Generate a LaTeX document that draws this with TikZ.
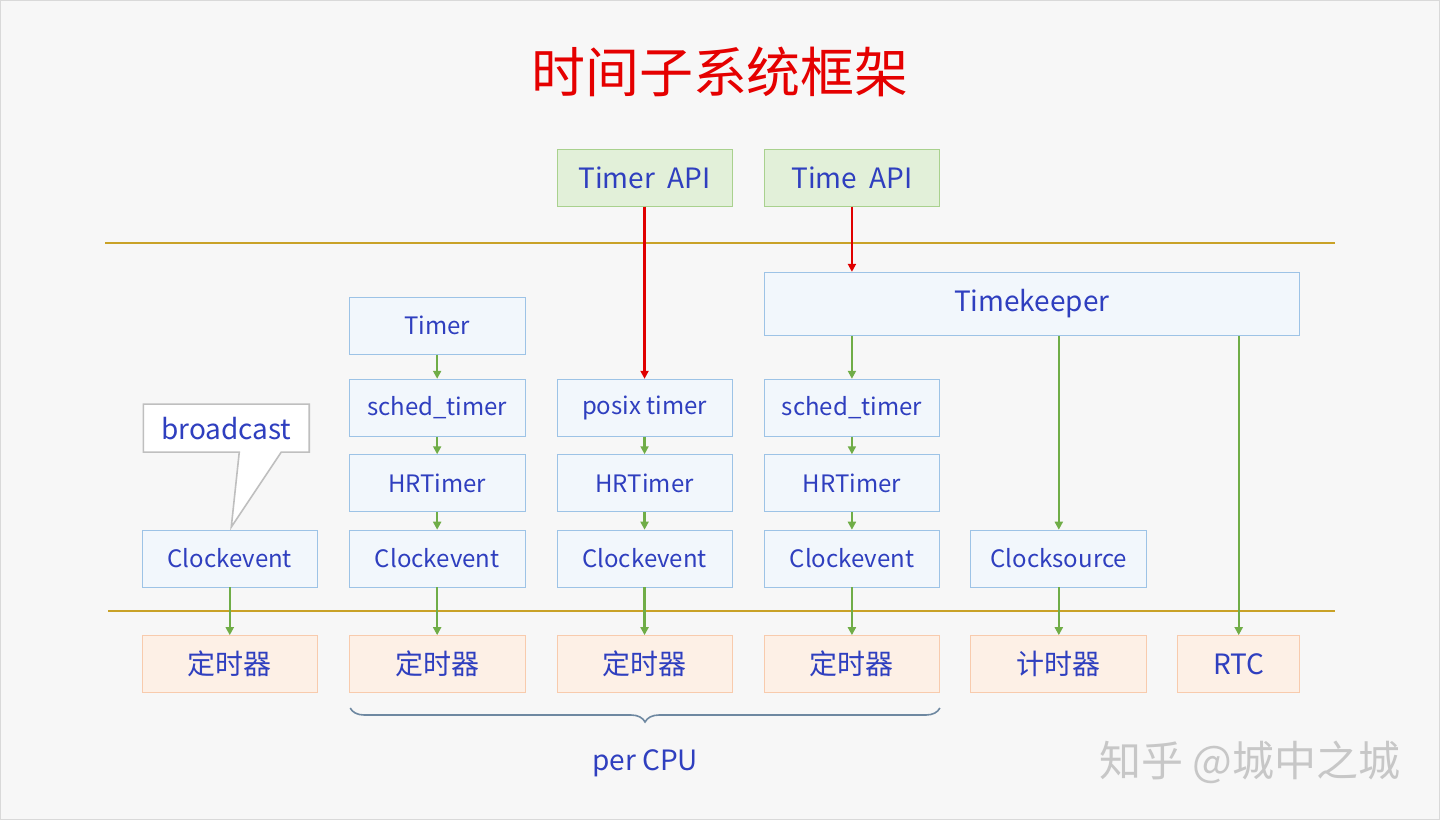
\documentclass[tikz,border=0pt]{standalone}
\usepackage{fontspec}
\setmainfont{Noto Sans CJK SC}
\usetikzlibrary{arrows.meta,decorations.pathreplacing}
\definecolor{txt}{HTML}{2F3FBF}
\definecolor{gline}{HTML}{C9A227}
\definecolor{gfill}{HTML}{E2F0D9}\definecolor{gdraw}{HTML}{A9D18E}
\definecolor{bfill}{HTML}{F2F7FC}\definecolor{bdraw}{HTML}{9DC3E6}
\definecolor{ofill}{HTML}{FDF0E6}\definecolor{odraw}{HTML}{F8CBAD}
\definecolor{garr}{HTML}{70AD47}\definecolor{rarr}{HTML}{E00000}
\begin{document}
\begin{tikzpicture}[x=0.5pt,y=-0.5pt,
  bx/.style={draw=bdraw,fill=bfill,text=txt,font=\fontsize{12}{14}\selectfont,inner sep=0pt},
  gbx/.style={draw=gdraw,fill=gfill,text=txt,font=\fontsize{14}{16}\selectfont,inner sep=0pt},
  obx/.style={draw=odraw,fill=ofill,text=txt,font=\fontsize{14}{16}\selectfont,inner sep=0pt},
  ga/.style={draw=garr,line width=1.2pt,-{Triangle[length=4pt,width=4pt]}},
  ra/.style={draw=rarr,line width=1.2pt,-{Triangle[length=4pt,width=4pt]}}]
\path[fill=white!97!black,draw=black!15] (0,0) rectangle (1440,819);
\useasboundingbox (0,0) rectangle (1440,819);
\node[text=red!90!black,font=\fontsize{27}{30}\selectfont] (title) at (720,72) {时间子系统框架};
\newcommand\bxat[5]{\node[#1,minimum width=#4*0.5pt,minimum height=57*0.5pt] (#2) at (#3) {#5};}
\bxat{gbx}{tia}{644.5,177.5}{175}{Timer\ \ API}
\bxat{gbx}{tma}{852,177.5}{176}{Time\ \ API}
\coordinate (l1a) at (105,243); \coordinate (l1b) at (1335,243);
\draw[gline,line width=1pt] (l1a) -- (l1b);
\coordinate (l2a) at (108,611); \coordinate (l2b) at (1335,611);
\draw[gline,line width=1pt] (l2a) -- (l2b);
\node[bx,font=\fontsize{14}{16}\selectfont,minimum width=268pt,minimum height=31.5pt] (tk) at (1032,303.5) {Timekeeper};
\bxat{bx}{timer}{437,325.5}{176}{Timer}
\bxat{bx}{s1}{437,407.5}{176}{sched\_timer}
\bxat{bx}{px}{644.5,407.5}{175}{posix timer}
\bxat{bx}{s2}{852,407.5}{176}{sched\_timer}
\bxat{bx}{h1}{437,483}{176}{HRTimer}
\bxat{bx}{h2}{644.5,483}{175}{HRTimer}
\bxat{bx}{h3}{852,483}{176}{HRTimer}
\bxat{bx}{c0}{229.5,558.5}{175}{Clockevent}
\bxat{bx}{c1}{437,558.5}{176}{Clockevent}
\bxat{bx}{c2}{644.5,558.5}{175}{Clockevent}
\bxat{bx}{c3}{852,558.5}{176}{Clockevent}
\bxat{bx}{cs}{1059,558.5}{176}{Clocksource}
\bxat{obx}{d0}{229.5,664}{175}{定时器}
\bxat{obx}{d1}{437,664}{176}{定时器}
\bxat{obx}{d2}{644.5,664}{175}{定时器}
\bxat{obx}{d3}{852,664}{176}{定时器}
\bxat{obx}{d4}{1059,664}{176}{计时器}
\bxat{obx}{rtc}{1239,664}{122}{RTC}
% broadcast callout
\coordinate (ctip) at (231,527);
\draw[black!25,fill=white,line width=0.8pt] (143,404) -- (309,404) -- (309,452) -- (281,452) -- (ctip) -- (239,452) -- (143,452) -- cycle;
\node[text=txt,font=\fontsize{14}{16}\selectfont] (bc) at (226,428) {broadcast};
% arrows
\draw[ra] (tia.south) -- (px.north);
\draw[ra] (tma.south) -- (tma.south |- tk.north);
\draw[ga] (timer) -- (s1);
\draw[ga] (s1) -- (h1);
\draw[ga] (h1) -- (c1);
\draw[ga] (px) -- (h2);
\draw[ga] (h2) -- (c2);
\draw[ga] (s2.north |- tk.south) -- (s2);
\draw[ga] (s2) -- (h3);
\draw[ga] (h3) -- (c3);
\draw[ga] (cs.north |- tk.south) -- (cs);
\draw[ga] (rtc.north |- tk.south) -- (rtc);
\draw[ga] (c0) -- (d0);
\draw[ga] (c1) -- (d1);
\draw[ga] (c2) -- (d2);
\draw[ga] (c3) -- (d3);
\draw[ga] (cs) -- (d4);
% brace
\coordinate (br1) at (350,708); \coordinate (br2) at (940,708);
\draw[bdraw!70!black,line width=0.8pt,decorate,decoration={brace,mirror,amplitude=7pt,aspect=0.5}] (br1) -- (br2);
\node[text=txt,font=\fontsize{14}{16}\selectfont] (pc) at (645,763) {per CPU};
\node[text=black!22,font=\fontsize{21}{24}\selectfont] (wm) at (1250,762) {知乎 @城中之城};
\end{tikzpicture}
\end{document}
